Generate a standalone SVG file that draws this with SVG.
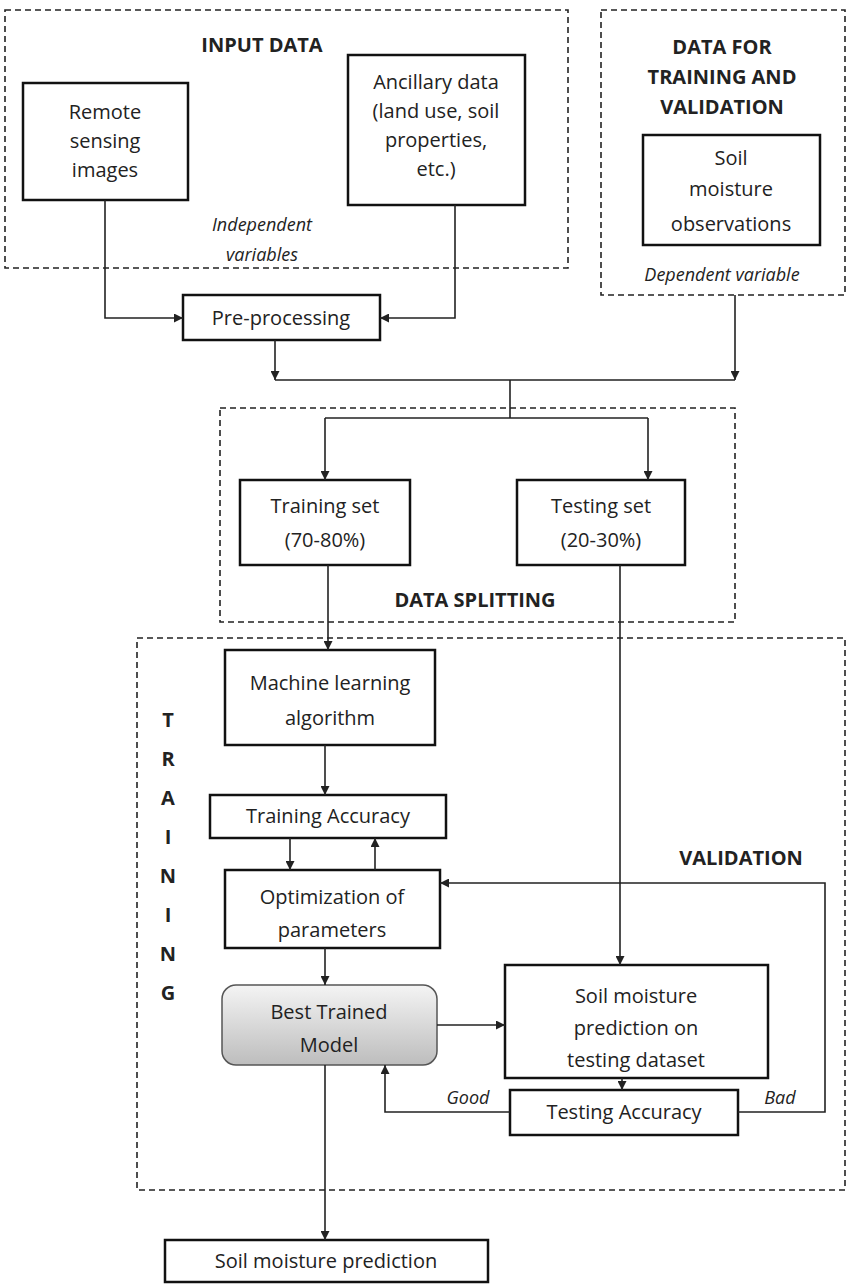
<svg xmlns="http://www.w3.org/2000/svg" width="850" height="1286" viewBox="0 0 850 1286">
<defs>
<marker id="a" viewBox="0 0 10 10" refX="10" refY="5" markerWidth="9" markerHeight="9" markerUnits="userSpaceOnUse" orient="auto"><path d="M0,0L10,5L0,10z" fill="#222"/></marker>
<linearGradient id="g" x1="0" y1="0" x2="0" y2="1"><stop offset="0" stop-color="#f4f4f4"/><stop offset="1" stop-color="#bdbdbd"/></linearGradient>
<style>
.d{fill:none;stroke:#222;stroke-width:1.6;stroke-dasharray:6,4}
.b{fill:#fff;stroke:#111;stroke-width:2.5}
text{font-family:"Open Sans","Liberation Sans",sans-serif;font-size:20px;fill:#222;text-anchor:middle}
.h{font-weight:bold}
.i{font-style:italic;font-size:18px}
.c{fill:none;stroke:#222;stroke-width:1.6}
</style>
</defs>
<rect class="d" x="5" y="10" width="563" height="258"/>
<rect class="d" x="601" y="10" width="244" height="285"/>
<rect class="d" x="220" y="408" width="515" height="214"/>
<rect class="d" x="137" y="638" width="708" height="552"/>
<text class="h" x="262" y="52">INPUT DATA</text>
<text class="h" x="722" y="54">DATA FOR</text>
<text class="h" x="722" y="84">TRAINING AND</text>
<text class="h" x="722" y="114">VALIDATION</text>
<text class="h" x="475" y="607">DATA SPLITTING</text>
<text class="h" x="741" y="865">VALIDATION</text>
<g class="h"><text x="168" y="727">T</text><text x="168" y="766">R</text><text x="168" y="805">A</text><text x="168" y="844">I</text><text x="168" y="883">N</text><text x="168" y="922">I</text><text x="168" y="961">N</text><text x="168" y="1000">G</text></g>
<text class="i" x="262" y="231">Independent</text>
<text class="i" x="262" y="261">variables</text>
<text class="i" x="722" y="281">Dependent variable</text>
<text class="i" x="468" y="1104">Good</text>
<text class="i" x="780" y="1104">Bad</text>
<g id="rs"><rect class="b" x="23" y="83" width="165" height="117"/><text x="105" y="119">Remote</text><text x="105" y="148">sensing</text><text x="105" y="177">images</text></g>
<g id="anc"><rect class="b" x="348" y="55" width="177" height="150"/><text x="436" y="89">Ancillary data</text><text x="436" y="118">(land use, soil</text><text x="436" y="147">properties,</text><text x="436" y="176">etc.)</text></g>
<g id="obs"><rect class="b" x="643" y="135" width="177" height="110"/><text x="731" y="165">Soil</text><text x="731" y="196">moisture</text><text x="731" y="231">observations</text></g>
<g id="pre"><rect class="b" x="183" y="295" width="197" height="45"/><text x="281" y="325">Pre-processing</text></g>
<g id="train"><rect class="b" x="240" y="480" width="170" height="85"/><text x="325" y="513">Training set</text><text x="325" y="547">(70-80%)</text></g>
<g id="test"><rect class="b" x="517" y="480" width="168" height="85"/><text x="601" y="513">Testing set</text><text x="601" y="547">(20-30%)</text></g>
<g id="ml"><rect class="b" x="225" y="650" width="210" height="95"/><text x="330" y="690">Machine learning</text><text x="330" y="725">algorithm</text></g>
<g id="tacc"><rect class="b" x="210" y="795" width="236" height="43"/><text x="328" y="823">Training Accuracy</text></g>
<g id="opt"><rect class="b" x="225" y="870" width="215" height="78"/><text x="332" y="904">Optimization of</text><text x="332" y="937">parameters</text></g>
<g id="best"><rect x="222" y="985" width="215" height="80" rx="14" fill="url(#g)" stroke="#555" stroke-width="1.5"/><text x="329" y="1019">Best Trained</text><text x="329" y="1052">Model</text></g>
<g id="smp"><rect class="b" x="505" y="965" width="263" height="113"/><text x="636" y="1003">Soil moisture</text><text x="636" y="1035">prediction on</text><text x="636" y="1067">testing dataset</text></g>
<g id="teacc"><rect class="b" x="510" y="1090" width="228" height="45"/><text x="624" y="1119">Testing Accuracy</text></g>
<g id="final"><rect class="b" x="165" y="1240" width="323" height="42"/><text x="326" y="1268">Soil moisture prediction</text></g>
<g id="connectors">
<path class="c" d="M105,200V318H183" marker-end="url(#a)"/>
<path class="c" d="M455,205V318H380" marker-end="url(#a)"/>
<path class="c" d="M275,340V380" marker-end="url(#a)"/>
<path class="c" d="M735,295V380" marker-end="url(#a)"/>
<path class="c" d="M275,380H735M510,380V418"/>
<path class="c" d="M325,418H648"/>
<path class="c" d="M325,418V480" marker-end="url(#a)"/>
<path class="c" d="M648,418V480" marker-end="url(#a)"/>
<path class="c" d="M328,565V650" marker-end="url(#a)"/>
<path class="c" d="M620,565V965" marker-end="url(#a)"/>
<path class="c" d="M325,745V795" marker-end="url(#a)"/>
<path class="c" d="M290,838V870" marker-end="url(#a)"/>
<path class="c" d="M375,870V838" marker-end="url(#a)"/>
<path class="c" d="M325,948V985" marker-end="url(#a)"/>
<path class="c" d="M437,1025H505" marker-end="url(#a)"/>
<path class="c" d="M622,1078V1090" marker-end="url(#a)"/>
<path class="c" d="M510,1112H385V1065" marker-end="url(#a)"/>
<path class="c" d="M738,1112H825V883H440" marker-end="url(#a)"/>
<path class="c" d="M325,1065V1240" marker-end="url(#a)"/>
</g>
</svg>
